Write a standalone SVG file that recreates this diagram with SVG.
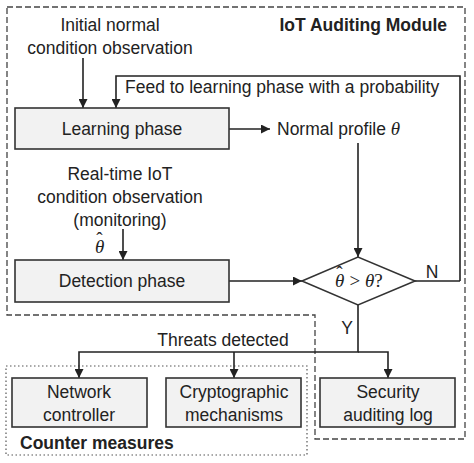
<svg xmlns="http://www.w3.org/2000/svg" width="474" height="463" viewBox="0 0 474 463">
<defs>
<marker id="ah" viewBox="0 0 10 10" refX="10" refY="5" markerWidth="9" markerHeight="9" markerUnits="userSpaceOnUse" orient="auto">
<path d="M0,0 L10,5 L0,10 z" fill="#222"/>
</marker>
<style>
.t{font-family:"Liberation Sans",Arial,sans-serif;font-size:17.5px;fill:#222;text-anchor:middle}
.b{font-weight:bold}
.m{font-family:"Liberation Serif","Times New Roman",serif;font-size:19px;fill:#222}
.hat{font-family:"Liberation Serif","DejaVu Serif",serif;font-size:19px;font-style:normal}
.box{fill:#f2f2f2;stroke:#333;stroke-width:1.6}
.ln{fill:none;stroke:#222;stroke-width:1.6}
</style>
</defs>
<rect width="474" height="463" fill="#fff"/>
<g id="module-border">
<path d="M7,7 H465 V439 H315 V315 H7 Z" fill="none" stroke="#444" stroke-width="1.3" stroke-dasharray="6,3"/>
<text class="t b" x="447" y="31" style="text-anchor:end">IoT Auditing Module</text>
</g>
<g id="countermeasures-border">
<rect x="6" y="366" width="301" height="89" fill="none" stroke="#555" stroke-width="1.2" stroke-dasharray="1.5,2.5"/>
<text class="t b" x="20" y="449" style="text-anchor:start">Counter measures</text>
</g>
<g id="connectors">
<path class="ln" d="M83,58 V108" marker-end="url(#ah)"/>
<path class="ln" d="M460,281 H415"/>
<path class="ln" d="M460,281 V76 H116 V108" marker-end="url(#ah)"/>
<path class="ln" d="M229,129 H270" marker-end="url(#ah)"/>
<path class="ln" d="M358,143 V257" marker-end="url(#ah)"/>
<path class="ln" d="M123,229 V260" marker-end="url(#ah)"/>
<path class="ln" d="M229,281 H302" marker-end="url(#ah)"/>
<path class="ln" d="M358,305 V352 H79 V378" marker-end="url(#ah)"/>
<path class="ln" d="M234,352 V378" marker-end="url(#ah)"/>
<path class="ln" d="M358,352 H388 V378" marker-end="url(#ah)"/>
<text class="t" x="125" y="93" style="text-anchor:start">Feed to learning phase with a probability</text>
<text class="t" x="432" y="278">N</text>
<text class="t" x="347" y="334">Y</text>
<text class="t" x="223" y="346">Threats detected</text>
</g>
<g id="initial-observation">
<text class="t" x="110" y="31">Initial normal</text>
<text class="t" x="110" y="54">condition observation</text>
</g>
<g id="learning-phase">
<rect class="box" x="15" y="108" width="214" height="41"/>
<text class="t" x="122" y="135">Learning phase</text>
</g>
<g id="normal-profile">
<text class="t" x="277" y="135" style="text-anchor:start">Normal profile <tspan class="m" font-style="italic">θ</tspan></text>
</g>
<g id="realtime-observation">
<text class="t" x="120" y="180">Real-time IoT</text>
<text class="t" x="120" y="203">condition observation</text>
<text class="t" x="120" y="226">(monitoring)</text>
<text class="m" x="95" y="253" font-style="italic">θ<tspan class="hat" dx="-8" dy="-8">ˆ</tspan></text>
</g>
<g id="detection-phase">
<rect class="box" x="15" y="260" width="214" height="42"/>
<text class="t" x="122" y="287">Detection phase</text>
</g>
<g id="decision">
<path d="M302,281 L358,257 L415,281 L358,305 Z" fill="#fff" stroke="#333" stroke-width="1.6"/>
<text class="m" x="335" y="287"><tspan font-style="italic">θ</tspan><tspan class="hat" dx="-8" dy="-8">ˆ</tspan><tspan dx="2" dy="8"> &gt; </tspan><tspan font-style="italic">θ</tspan>?</text>
</g>
<g id="network-controller">
<rect class="box" x="12" y="378" width="135" height="49"/>
<text class="t" x="79" y="398">Network</text>
<text class="t" x="79" y="421">controller</text>
</g>
<g id="cryptographic-mechanisms">
<rect class="box" x="166" y="378" width="135" height="49"/>
<text class="t" x="234" y="398">Cryptographic</text>
<text class="t" x="234" y="421">mechanisms</text>
</g>
<g id="security-log">
<rect class="box" x="320" y="378" width="135" height="49"/>
<text class="t" x="388" y="398">Security</text>
<text class="t" x="388" y="421">auditing log</text>
</g>
</svg>
